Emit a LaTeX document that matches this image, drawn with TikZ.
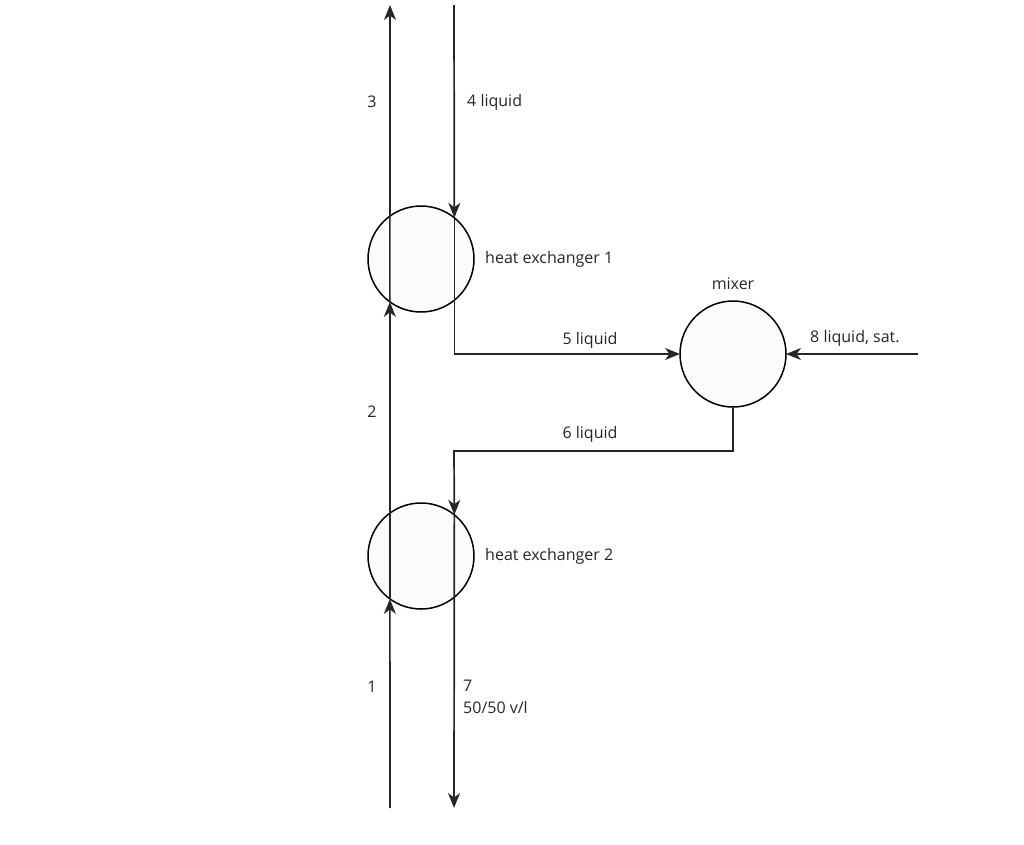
\documentclass[tikz,border=0pt]{standalone}
\usepackage{fontspec}
\setmainfont{Open Sans}
\usetikzlibrary{arrows.meta}
\begin{document}
\begin{tikzpicture}[x=1pt,y=-1pt,
  unit/.style={circle,draw,line width=1.5pt,fill=gray!3,minimum size=106pt,inner sep=0pt,outer sep=0pt},
  flow/.style={line width=1.7pt,draw=black!85,-{Stealth[length=15pt,width=12pt,inset=4.5pt]}},
  lbl/.style={font=\fontsize{16}{19}\selectfont,inner sep=0pt,text=black!85}]
\useasboundingbox (0,0) rectangle (1024,844);
\node[unit] (hx1) at (421,259) {};
\node[unit] (hx2) at (421,556) {};
\node[unit] (mixer) at (733,354) {};
\coordinate (s1) at (390,808);
\coordinate (s3) at (390,5);
\coordinate (s4) at (454,5);
\coordinate (s7) at (454,808);
\coordinate (s8) at (918,354);
\coordinate (c6) at (454,451);
% left stream
\draw[flow] (s1) -- (hx2.234.2);
\draw[flow] (hx2.234.2) -- (hx1.234.2);
\draw[flow] (hx1.234.2) -- (s3);
% right stream
\draw[flow] (s4) -- (hx1.51.5);
\draw[flow] (hx1.51.5) |- (mixer.west);
\draw[flow] (s8) -- (mixer.east);
\draw[flow] (mixer.south) |- (c6) -- (hx2.51.5);
\draw[flow] (hx2.51.5) -- (s7);
% labels
\node[lbl] (l3) at (372,102) {3};
\node[lbl,anchor=west] (l4) at (467,102) {4 liquid};
\node[lbl,anchor=west] (lh1) at (485,259) {heat exchanger 1};
\node[lbl] (lm) at (733,284) {mixer};
\node[lbl] (l5) at (590,340) {5 liquid};
\node[lbl,anchor=west] (l8) at (810,338) {8 liquid, sat.};
\node[lbl] (l2) at (372,412) {2};
\node[lbl] (l6) at (590,434) {6 liquid};
\node[lbl,anchor=west] (lh2) at (485,556) {heat exchanger 2};
\node[lbl] (l1) at (372,687) {1};
\node[lbl,anchor=west] (l7) at (463,686) {7};
\node[lbl,anchor=west] (l7b) at (463,707) {50/50 v/l};
\end{tikzpicture}
\end{document}
